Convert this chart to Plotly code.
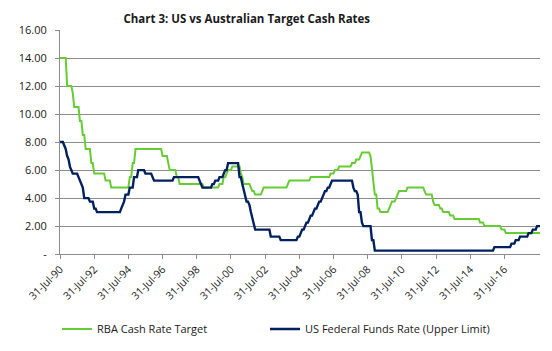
import pandas as pd
import plotly.graph_objects as go

# Rate changes: month (YYYY-MM) from which the rate applies (month-end observations)
rba_months = ["1990-07", "1990-12", "1991-04", "1991-05", "1991-09", "1991-11",
              "1992-01", "1992-05", "1992-07", "1993-03", "1993-07", "1994-08", "1994-10",
              "1994-12", "1996-07", "1996-11", "1996-12", "1997-05", "1997-07", "1998-12",
              "1999-11", "2000-02", "2000-04", "2000-05", "2000-08", "2001-02", "2001-03",
              "2001-04", "2001-09", "2001-10", "2001-12", "2002-05", "2002-06", "2003-11",
              "2003-12", "2005-03", "2006-05", "2006-08", "2006-11", "2007-08", "2007-11",
              "2008-02", "2008-03", "2008-09", "2008-10", "2008-11", "2008-12", "2009-02",
              "2009-04", "2009-10", "2009-11", "2009-12", "2010-03", "2010-04", "2010-05",
              "2010-11", "2011-11", "2011-12", "2012-05", "2012-06", "2012-10", "2012-12",
              "2013-05", "2013-08", "2015-02", "2015-05", "2016-05", "2016-08"]
rba_rates = [14.0, 12.0, 11.5, 10.5, 9.5, 8.5,
             7.5, 6.5, 5.75, 5.25, 4.75, 5.5, 6.5,
             7.5, 7.0, 6.5, 6.0, 5.5, 5.0, 4.75,
             5.0, 5.5, 5.75, 6.0, 6.25, 5.75, 5.5,
             5.0, 4.75, 4.5, 4.25, 4.5, 4.75, 5.0,
             5.25, 5.5, 5.75, 6.0, 6.25, 6.5, 6.75,
             7.0, 7.25, 7.0, 6.0, 5.25, 4.25, 3.25,
             3.0, 3.25, 3.5, 3.75, 4.0, 4.25, 4.5,
             4.75, 4.5, 4.25, 3.75, 3.5, 3.25, 3.0,
             2.75, 2.5, 2.25, 2.0, 1.75, 1.5]

fed_months = ["1990-07", "1990-10", "1990-11", "1990-12", "1991-01", "1991-02", "1991-03",
              "1991-04", "1991-08", "1991-09", "1991-10", "1991-11", "1991-12", "1992-04",
              "1992-07", "1992-09", "1994-02", "1994-03", "1994-04", "1994-05", "1994-08",
              "1994-11", "1995-02", "1995-07", "1995-12", "1996-01", "1997-03", "1998-09",
              "1998-10", "1998-11", "1999-06", "1999-08", "1999-11", "2000-02", "2000-03",
              "2000-05", "2001-01", "2001-03", "2001-04", "2001-05", "2001-06", "2001-08",
              "2001-09", "2001-10", "2001-11", "2001-12", "2002-11", "2003-06", "2004-06",
              "2004-08", "2004-09", "2004-11", "2004-12", "2005-02", "2005-03", "2005-05",
              "2005-06", "2005-08", "2005-09", "2005-11", "2005-12", "2006-01", "2006-03",
              "2006-05", "2006-06", "2007-09", "2007-10", "2007-12", "2008-01", "2008-03",
              "2008-04", "2008-10", "2008-12", "2015-12", "2016-12", "2017-03", "2017-06",
              "2017-12", "2018-03", "2018-06"]
fed_rates = [8.0, 7.75, 7.5, 7.0, 6.75, 6.25, 6.0,
             5.75, 5.5, 5.25, 5.0, 4.75, 4.0, 3.75,
             3.25, 3.0, 3.25, 3.5, 3.75, 4.25, 4.75,
             5.5, 6.0, 5.75, 5.5, 5.25, 5.5, 5.25,
             5.0, 4.75, 5.0, 5.25, 5.5, 5.75, 6.0,
             6.5, 5.5, 5.0, 4.5, 4.0, 3.75, 3.5,
             3.0, 2.5, 2.0, 1.75, 1.25, 1.0, 1.25,
             1.5, 1.75, 2.0, 2.25, 2.5, 2.75, 3.0,
             3.25, 3.5, 3.75, 4.0, 4.25, 4.5, 4.75,
             5.0, 5.25, 4.75, 4.5, 4.25, 3.0, 2.25,
             2.0, 1.0, 0.25, 0.5, 0.75, 1.0, 1.25,
             1.5, 1.75, 2.0]

start_month = "1990-07"
end_month = "2018-08"

y_tick_vals = [0, 2, 4, 6, 8, 10, 12, 14, 16]
y_tick_text = ["-", "2.00", "4.00", "6.00", "8.00", "10.00", "12.00", "14.00", "16.00"]
x_tick_years = list(range(1990, 2018, 2))

# month-end observation dates
periods = pd.period_range(start_month, end_month, freq="M")
dates = [p.to_timestamp(how="end").normalize() for p in periods]


def monthly(change_months, change_rates):
    out = []
    idx = 0
    cm = [pd.Period(m, freq="M") for m in change_months]
    for p in periods:
        while idx + 1 < len(cm) and cm[idx + 1] <= p:
            idx += 1
        out.append(change_rates[idx])
    return out


rba = monthly(rba_months, rba_rates)
fed = monthly(fed_months, fed_rates)

x_tick_vals = [pd.Timestamp(f"{y}-07-31") for y in x_tick_years]
x_tick_text = [f"31-Jul-{y % 100:02d}" for y in x_tick_years]

GREEN = "#66CC33"
NAVY = "#002060"
GRID = "#8C8C8C"
TEXT = "#1a1a1a"
FONT = "Open Sans"

fig = go.Figure()
fig.add_trace(go.Scatter(x=dates, y=rba, mode="lines", name="RBA Cash Rate Target",
                         line=dict(color=GREEN, width=2), legend="legend"))
fig.add_trace(go.Scatter(x=dates, y=fed, mode="lines", name="US Federal Funds Rate (Upper Limit)",
                         line=dict(color=NAVY, width=2.4), legend="legend2"))

legend_common = dict(orientation="h", xref="container", yref="container",
                     xanchor="left", y=1 - 329 / 351, yanchor="middle",
                     font=dict(family=FONT, size=11, color=TEXT),
                     bgcolor="rgba(0,0,0,0)")

fig.update_layout(
    width=552, height=351,
    margin=dict(l=60, r=12, t=30, b=85),
    paper_bgcolor="white", plot_bgcolor="white",
    font=dict(family=FONT, size=11, color=TEXT),
    title=dict(text="<b>Chart 3: US vs Australian Target Cash Rates</b>",
               x=0.447, xanchor="center", y=1 - 19 / 351, yanchor="middle",
               font=dict(family=FONT, size=11.5, color=TEXT)),
    showlegend=True,
    legend=dict(x=57 / 552, **legend_common),
    legend2=dict(x=265 / 552, **legend_common),
)

fig.update_xaxes(
    type="date",
    range=[dates[0], dates[-1]],
    tickmode="array", tickvals=x_tick_vals, ticktext=x_tick_text,
    tickangle=-45, ticks="outside", ticklen=4, tickcolor=GRID,
    showgrid=False, showline=True, linecolor=GRID, linewidth=1,
    zeroline=False, tickfont=dict(family=FONT, size=10.5, color=TEXT),
)
fig.update_yaxes(
    range=[0, 16],
    tickmode="array", tickvals=y_tick_vals, ticktext=y_tick_text,
    ticks="outside", ticklen=4, tickcolor=GRID,
    showgrid=True, gridcolor=GRID, gridwidth=1,
    showline=True, linecolor=GRID, linewidth=1,
    zeroline=False, tickfont=dict(family=FONT, size=11, color=TEXT),
    ticklabelstandoff=6,
)

fig.write_html("out.html")
